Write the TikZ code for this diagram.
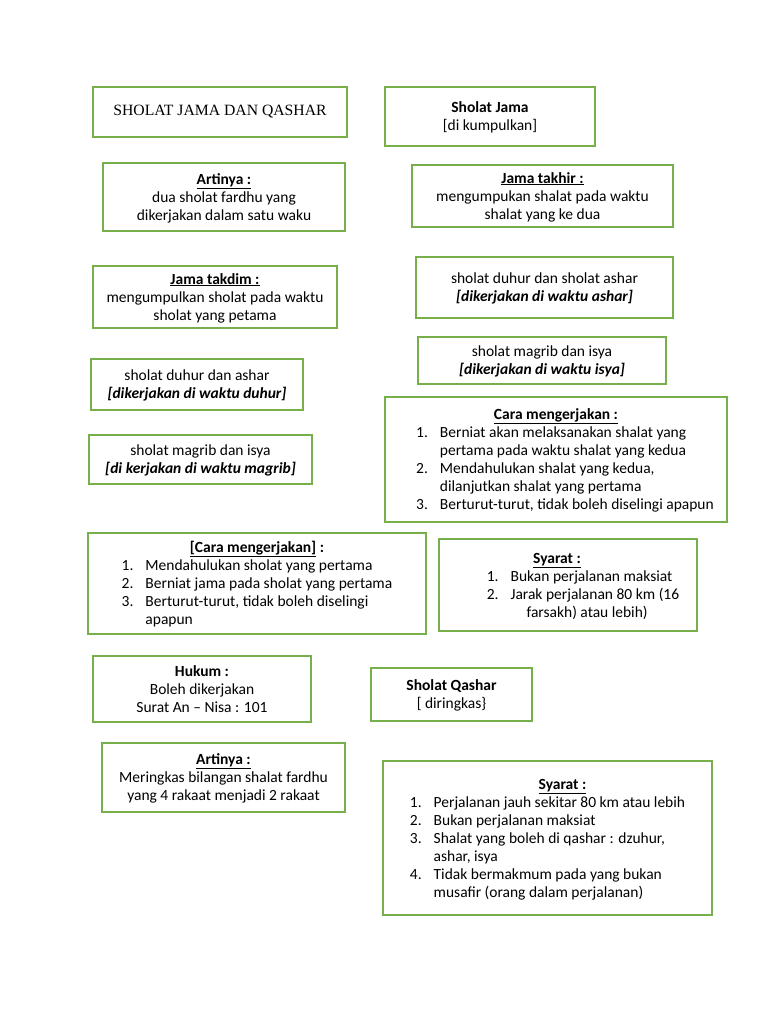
\documentclass[tikz,border=0pt]{standalone}
\usepackage{fontspec}
\setmainfont{Carlito}
\newfontfamily\titlefont{Liberation Serif}
\definecolor{boxgreen}{RGB}{119,176,74}
\newcommand{\hd}[1]{\textbf{\underline{#1}}}
\newcommand{\lowered}[1]{\raisebox{-1.5pt}[\height][\depth]{#1}}
\newcommand{\ctext}[1]{\lowered{\begin{tabular}{@{}c@{}}#1\end{tabular}}}
\begin{document}
\begin{tikzpicture} [x=1pt, y=-1pt,
            every node/.style = {draw=boxgreen, line width=1.4pt, rectangle, inner sep=0pt,
                                 font=\fontsize{15.5}{18}\selectfont}]

            \useasboundingbox (0,0) rectangle (768,1024);

            % left column
            \node[minimum width=254, minimum height=50] (title) at (220, 112)
                {\titlefont\fontsize{15.7}{18}\selectfont SHOLAT JAMA DAN QASHAR};
            \node[minimum width=242, minimum height=68] (artiJama) at (224, 197)
                {\ctext{\hd{Artinya :}\\ dua sholat fardhu yang\\ dikerjakan dalam satu waku}};
            \node[minimum width=244, minimum height=62] (takdim) at (215, 297)
                {\ctext{\hd{Jama takdim :}\\ mengumpulkan sholat pada waktu\\ sholat yang petama}};
            \node[minimum width=212, minimum height=51] (takdimA) at (197, 384.5)
                {\ctext{sholat duhur dan ashar\\ \textbf{\textit{[dikerjakan di waktu duhur]}}}};
            \node[minimum width=223, minimum height=49] (takdimB) at (200.5, 459.5)
                {\ctext{sholat magrib dan isya\\ \textbf{\textit{[di kerjakan di waktu magrib]}}}};
            \node[minimum width=338, minimum height=101] (caraTakdim) at (257, 583.5)
                {\lowered{\begin{tabular}{@{}r@{\hspace{12pt}}l@{}}
                 \multicolumn{2}{c}{\textbf{\underline{[Cara mengerjakan]} :}}\\
                 1. & Mendahulukan sholat yang pertama\\
                 2. & Berniat jama pada sholat yang pertama\\
                 3. & Berturut-turut, tidak boleh diselingi\\
                    & apapun
                 \end{tabular}}};
            \node[minimum width=218, minimum height=66] (hukum) at (202, 689)
                {\ctext{\textbf{Hukum :}\\ Boleh dikerjakan\\ Surat An -- Nisa : 101}};
            \node[minimum width=243, minimum height=69] (artiQashar) at (223.5, 777.5)
                {\ctext{\hd{Artinya :}\\ Meringkas bilangan shalat fardhu\\ yang 4 rakaat menjadi 2 rakaat}};

            % right column
            \node[minimum width=210, minimum height=59] (jama) at (490, 116.5)
                {\ctext{\textbf{Sholat Jama}\\ {[}di kumpulkan]}};
            \node[minimum width=261, minimum height=62] (takhir) at (542.5, 196)
                {\ctext{\hd{Jama takhir :}\\ mengumpukan shalat pada waktu\\ shalat yang ke dua}};
            \node[minimum width=257, minimum height=61] (takhirA) at (544.5, 287.5)
                {\ctext{sholat duhur dan sholat ashar\\ \textbf{\textit{[dikerjakan di waktu ashar]}}}};
            \node[minimum width=248, minimum height=47] (takhirB) at (542, 360.5)
                {\ctext{sholat magrib dan isya\\ \textbf{\textit{[dikerjakan di waktu isya]}}}};
            \node[minimum width=342, minimum height=125] (caraTakhir) at (556, 459.5)
                {\lowered{\begin{tabular}{@{\hspace{18pt}}r@{\hspace{12pt}}l@{}}
                 \multicolumn{2}{c}{\hd{Cara mengerjakan :}}\\
                 1. & Berniat akan melaksanakan shalat yang\\
                    & pertama pada waktu shalat yang kedua\\
                 2. & Mendahulukan shalat yang kedua,\\
                    & dilanjutkan shalat yang pertama\\
                 3. & Berturut-turut, tidak boleh diselingi apapun
                 \end{tabular}}};
            \node[minimum width=258, minimum height=92] (syaratJama) at (568, 585)
                {\lowered{\begin{tabular}{@{\hspace{30pt}}r@{\hspace{12pt}}l@{}}
                 \multicolumn{2}{c@{\hspace{28pt}}}{\hd{Syarat :}}\\
                 1. & Bukan perjalanan maksiat\\
                 2. & Jarak perjalanan 80 km (16\\
                    & \hspace{16pt}farsakh) atau lebih)
                 \end{tabular}}};
            \node[minimum width=161, minimum height=53] (qashar) at (451.5, 694.5)
                {\ctext{\textbf{Sholat Qashar}\\ {[} diringkas\}}};
            \node[minimum width=329, minimum height=154] (syaratQashar) at (547.5, 838)
                {\lowered{\begin{tabular}{@{}r@{\hspace{12pt}}l@{}}
                 \multicolumn{2}{@{\hspace{30pt}}c@{}}{\hd{Syarat :}}\\
                 1. & Perjalanan jauh sekitar 80 km atau lebih\\
                 2. & Bukan perjalanan maksiat\\
                 3. & Shalat yang boleh di qashar : dzuhur,\\
                    & ashar, isya\\
                 4. & Tidak bermakmum pada yang bukan\\
                    & musafir (orang dalam perjalanan)
                 \end{tabular}}};
        \end{tikzpicture}
\end{document}
